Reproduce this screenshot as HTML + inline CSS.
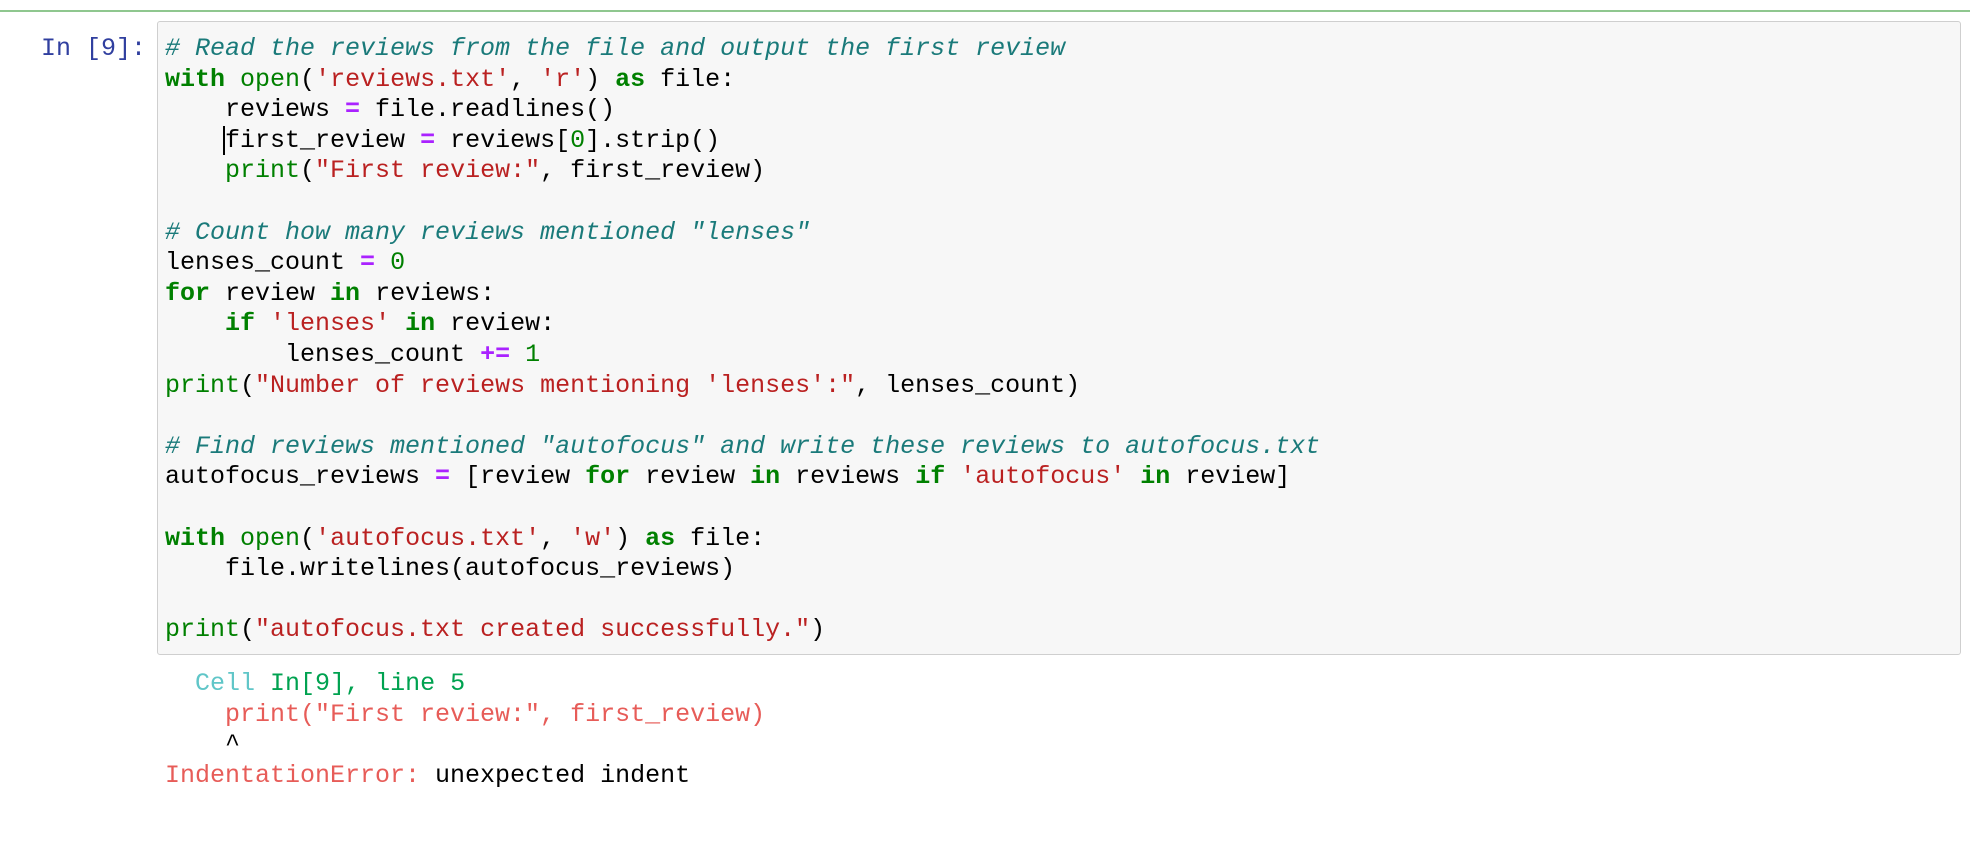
<!DOCTYPE html>
<html><head><meta charset="utf-8"><style>
body{margin:0;width:1970px;height:860px;background:#fff;position:relative;overflow:hidden;font-family:"Liberation Mono",monospace;}
.gl{position:absolute;left:0;top:10px;width:1970px;height:2px;background:#8fc78f;}
.box{position:absolute;left:157px;top:21px;width:1804px;height:634px;background:#f7f7f7;border:1px solid #cfcfcf;border-radius:3px;box-sizing:border-box;}
pre{margin:0;position:absolute;font-family:"Liberation Mono",monospace;font-size:25px;line-height:30.6px;color:#000;white-space:pre;}
.p{position:absolute;left:41px;top:34px;font-size:25px;line-height:30.6px;color:#303F9F;}
.c{color:#1a7a7a;font-style:italic}.k{color:#008000;font-weight:bold}.b{color:#008000}.s{color:#BA2121}.o{color:#AA22FF;font-weight:bold}.n{color:#008000}
.cy{color:#60C6C8}.gr{color:#00A250}.r{color:#E75C58}
.cur{border-left:2px solid #000;margin-left:-2px}
</style></head><body>
<div class="gl"></div>
<div class="box"></div>
<pre class="p">In [9]:</pre>
<pre style="left:165px;top:34px;"><span class="c"># Read the reviews from the file and output the first review</span>
<span class="k">with</span> <span class="b">open</span>(<span class="s">'reviews.txt'</span>, <span class="s">'r'</span>) <span class="k">as</span> file:
    reviews <span class="o">=</span> file.readlines()
    <span class="cur">f</span>irst_review <span class="o">=</span> reviews[<span class="n">0</span>].strip()
    <span class="b">print</span>(<span class="s">"First review:"</span>, first_review)

<span class="c"># Count how many reviews mentioned "lenses"</span>
lenses_count <span class="o">=</span> <span class="n">0</span>
<span class="k">for</span> review <span class="k">in</span> reviews:
    <span class="k">if</span> <span class="s">'lenses'</span> <span class="k">in</span> review:
        lenses_count <span class="o">+=</span> <span class="n">1</span>
<span class="b">print</span>(<span class="s">"Number of reviews mentioning 'lenses':"</span>, lenses_count)

<span class="c"># Find reviews mentioned "autofocus" and write these reviews to autofocus.txt</span>
autofocus_reviews <span class="o">=</span> [review <span class="k">for</span> review <span class="k">in</span> reviews <span class="k">if</span> <span class="s">'autofocus'</span> <span class="k">in</span> review]

<span class="k">with</span> <span class="b">open</span>(<span class="s">'autofocus.txt'</span>, <span class="s">'w'</span>) <span class="k">as</span> file:
    file.writelines(autofocus_reviews)

<span class="b">print</span>(<span class="s">"autofocus.txt created successfully."</span>)</pre>
<pre style="left:165px;top:669px;">  <span class="cy">Cell</span> <span class="gr">In[9], line 5</span>
<span class="r">    print("First review:", first_review)</span>
    ^
<span class="r">IndentationError:</span> unexpected indent</pre>
</body></html>
